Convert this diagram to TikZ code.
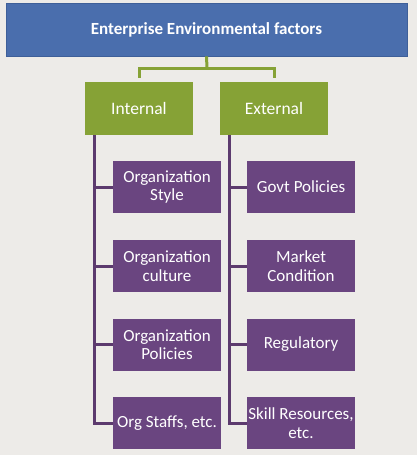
\documentclass[tikz,border=0pt]{standalone}
\usepackage{fontspec}
\setmainfont{Carlito}
\definecolor{bgc}{HTML}{EDEBE8}
\definecolor{topc}{HTML}{4A6EAD}
\definecolor{topb}{HTML}{3E5F99}
\definecolor{grn}{HTML}{86A236}
\definecolor{prp}{HTML}{6A4580}
\definecolor{prpl}{HTML}{5C3A6E}
\begin{document}
\begin{tikzpicture}[x=1pt,y=1pt,
  topbox/.style={rectangle,fill=topc,draw=topb,line width=0.8pt,minimum width=401pt,minimum height=53pt,text=white,font=\bfseries\fontsize{17}{19}\selectfont,inner sep=0pt},
  catbox/.style={rectangle,fill=grn,minimum width=108pt,minimum height=53pt,text=white,font=\fontsize{17.5}{19}\selectfont,inner sep=0pt},
  itembox/.style={rectangle,fill=prp,minimum width=108pt,minimum height=52pt,text=white,font=\fontsize{17}{18.5}\selectfont,align=center,inner sep=0pt},
  gline/.style={draw=grn,line width=3pt},
  pline/.style={draw=prpl,line width=3pt}]
\useasboundingbox[fill=bgc] (0,0) rectangle (417,-455);
\node[topbox] (top) at (206.5,-29.5) {Enterprise Environmental factors};
\node[catbox] (int) at (139,-108.5) {Internal};
\node[catbox] (ext) at (274,-108.5) {External};
\node[itembox] (o1) at (167,-187) {Organization\\Style};
\node[itembox] (o2) at (167,-266) {Organization\\culture};
\node[itembox] (o3) at (167,-344.5) {Organization\\Policies};
\node[itembox] (o4) at (167,-423) {Org Staffs, etc.};
\node[itembox] (e1) at (301,-187) {Govt Policies};
\node[itembox] (e2) at (301,-266) {Market\\Condition};
\node[itembox] (e3) at (301,-344.5) {Regulatory};
\node[itembox] (e4) at (301,-423) {Skill Resources,\\etc.};
\coordinate (hub) at (207,-68);
\coordinate (trunkL) at (94,-135);
\coordinate (trunkR) at (229,-135);
\draw[gline] (top.south) -- (hub);
\draw[gline,shorten >=4pt] (hub) -| (int.north);
\draw[gline,shorten >=4pt] (hub) -| (ext.north);
\foreach \n in {o1,o2,o3,o4} \draw[pline] (trunkL) |- (\n.west);
\foreach \n in {e1,e2,e3,e4} \draw[pline] (trunkR) |- (\n.west);
\end{tikzpicture}
\end{document}
